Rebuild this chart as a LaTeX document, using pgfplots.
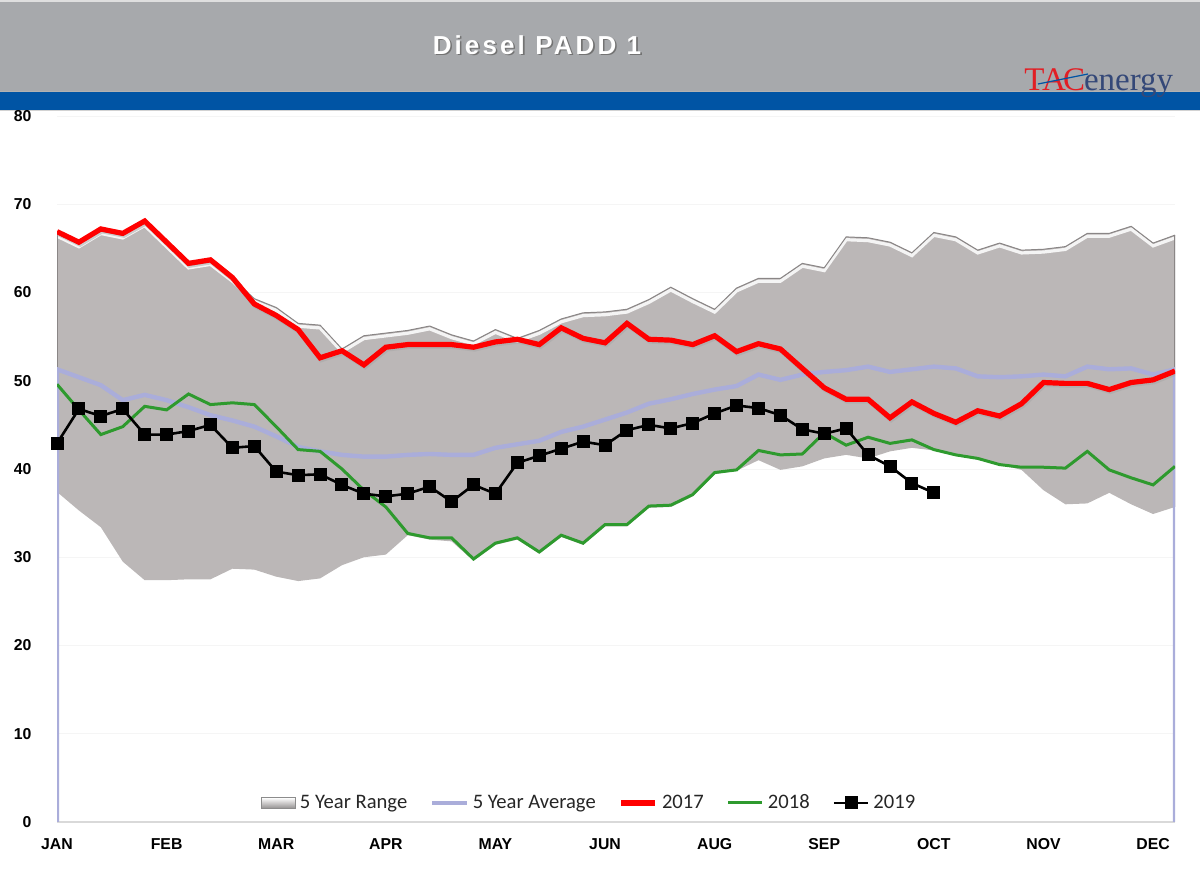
\documentclass[border=0pt]{standalone}
\usepackage{fontspec}
\setmainfont{Liberation Sans}
\newfontfamily\carlito{Carlito}
\newfontfamily\tserif{Liberation Serif}
\usepackage{pgfplots}
\pgfplotsset{compat=1.18}
\usepackage{pgfplotstable}
\usepgfplotslibrary{fillbetween}

\definecolor{hdrgray}{RGB}{167,169,172}
\definecolor{hdrblue}{RGB}{0,84,164}
\definecolor{rangegray}{RGB}{187,183,183}
\definecolor{rangeedge}{RGB}{138,134,134}
\definecolor{avgcol}{RGB}{170,173,218}
\definecolor{red17}{RGB}{255,0,0}
\definecolor{green18}{RGB}{46,154,46}
\definecolor{logored}{RGB}{226,30,36}
\definecolor{logoblue}{RGB}{52,72,120}

\pgfplotstableread{
w up lo
0 66.7 37.4
1 65.5 35.3
2 67.0 33.4
3 66.5 29.5
4 67.9 27.4
5 65.5 27.4
6 63.1 27.5
7 63.5 27.5
8 61.6 28.7
9 59.3 28.6
10 58.3 27.8
11 56.5 27.3
12 56.3 27.6
13 53.6 29.1
14 55.1 30.0
15 55.4 30.3
16 55.7 32.5
17 56.2 32.0
18 55.2 31.8
19 54.5 29.6
20 55.8 31.4
21 54.8 32.0
22 55.7 30.4
23 57.0 32.3
24 57.7 31.4
25 57.8 33.5
26 58.1 33.5
27 59.2 35.6
28 60.6 35.7
29 59.3 36.9
30 58.1 39.4
31 60.5 39.8
32 61.6 41.0
33 61.6 39.9
34 63.3 40.3
35 62.8 41.2
36 66.3 41.6
37 66.2 41.2
38 65.7 42.0
39 64.5 42.4
40 66.8 42.1
41 66.3 41.5
42 64.8 41.1
43 65.6 40.5
44 64.8 39.9
45 64.9 37.6
46 65.2 36.0
47 66.7 36.1
48 66.7 37.3
49 67.5 36.0
50 65.6 34.9
51 66.5 35.7
}\rangetab

\pgfplotstableread{
w v
0 0
0 51.3
1 50.4
2 49.5
3 47.8
4 48.4
5 47.8
6 47.0
7 46.1
8 45.5
9 44.8
10 43.7
11 42.5
12 42.0
13 41.6
14 41.4
15 41.4
16 41.6
17 41.7
18 41.6
19 41.6
20 42.4
21 42.8
22 43.2
23 44.2
24 44.8
25 45.6
26 46.4
27 47.4
28 47.9
29 48.5
30 49.0
31 49.4
32 50.7
33 50.1
34 50.7
35 51.0
36 51.2
37 51.6
38 51.0
39 51.3
40 51.6
41 51.4
42 50.5
43 50.4
44 50.5
45 50.7
46 50.5
47 51.6
48 51.3
49 51.4
50 50.7
51 51.3
51 0
}\avgtab

\pgfplotstableread{
w v
0 66.9
1 65.7
2 67.2
3 66.7
4 68.1
5 65.7
6 63.3
7 63.7
8 61.7
9 58.7
10 57.4
11 55.8
12 52.6
13 53.4
14 51.8
15 53.8
16 54.1
17 54.1
18 54.1
19 53.8
20 54.4
21 54.7
22 54.1
23 56.0
24 54.8
25 54.3
26 56.5
27 54.7
28 54.6
29 54.1
30 55.1
31 53.3
32 54.2
33 53.6
34 51.4
35 49.2
36 47.9
37 47.9
38 45.8
39 47.6
40 46.3
41 45.3
42 46.6
43 46.0
44 47.4
45 49.8
46 49.7
47 49.7
48 49.0
49 49.8
50 50.1
51 51.1
}\tabA

\pgfplotstableread{
w v
0 49.6
1 46.7
2 43.9
3 44.8
4 47.1
5 46.7
6 48.5
7 47.3
8 47.5
9 47.3
10 44.8
11 42.2
12 42.0
13 40.0
14 37.6
15 35.7
16 32.7
17 32.2
18 32.2
19 29.8
20 31.6
21 32.2
22 30.6
23 32.5
24 31.6
25 33.7
26 33.7
27 35.8
28 35.9
29 37.1
30 39.6
31 39.9
32 42.1
33 41.6
34 41.7
35 44.1
36 42.7
37 43.6
38 42.9
39 43.3
40 42.2
41 41.6
42 41.2
43 40.5
44 40.2
45 40.2
46 40.1
47 42.0
48 39.9
49 39.0
50 38.2
51 40.3
}\tabB

\pgfplotstableread{
w v
0 42.9
1 46.8
2 46.0
3 46.8
4 43.9
5 43.9
6 44.3
7 45.0
8 42.4
9 42.6
10 39.7
11 39.3
12 39.4
13 38.2
14 37.2
15 36.9
16 37.2
17 38.0
18 36.3
19 38.2
20 37.2
21 40.7
22 41.5
23 42.3
24 43.1
25 42.7
26 44.4
27 45.0
28 44.6
29 45.2
30 46.3
31 47.2
32 46.9
33 46.1
34 44.5
35 44.0
36 44.6
37 41.6
38 40.3
39 38.4
40 37.3
}\tabC

\begin{document}
\begin{tikzpicture}
% invisible frame fixing the picture size
\path (0,0) rectangle (600pt,436pt);
% header
\fill[hdrgray] (0,390pt) rectangle (600pt,436pt);
\fill[gray!25] (0,434.8pt) rectangle (600pt,436pt);
\fill[gray!60] (0,389.6pt) rectangle (600pt,390.6pt);
\fill[hdrblue] (0,381pt) rectangle (600pt,389.8pt);
\fill[gray!35] (0,380.4pt) rectangle (600pt,381pt);
\node[text=black!55, font=\bfseries\fontsize{13}{15}\selectfont\addfontfeature{LetterSpace=12}] at (269.3pt,412.7pt) {Diesel PADD 1};
\node[text=white, font=\bfseries\fontsize{13}{15}\selectfont\addfontfeature{LetterSpace=12}] at (268.5pt,413.5pt) {Diesel PADD 1};
% logo
\node[anchor=base west, inner sep=0pt, font=\tserif\fontsize{16.5}{16}\selectfont] at (512pt,390.8pt) {\textcolor{logored}{T\kern-1.2pt A\kern-1.5pt C}\kern-0.5pt\textcolor{logoblue}{energy}};
\draw[hdrblue, line width=0.6pt] (519pt,394pt) -- (544pt,399pt);

\begin{axis}[
  at={(28.5pt,25pt)}, anchor=south west,
  scale only axis, width=559pt, height=353pt,
  xmin=0, xmax=51, ymin=0, ymax=80,
  axis x line*=bottom, axis y line*=left,
  x axis line style={draw=black!15, line width=0.8pt},
  y axis line style={draw=none},
  major tick length=0pt,
  xtick={0,5,...,50},
  xticklabels={JAN,FEB,MAR,APR,MAY,JUN,AUG,SEP,OCT,NOV,DEC},
  ytick={0,10,...,80},
  ymajorgrids, grid style={black!4, line width=0.4pt},
  /pgf/number format/assume math mode=true,
  tick label style={font=\bfseries\fontsize{7.9}{9}\selectfont, text=black},
  xticklabel style={yshift=-4.6pt},
  yticklabel style={xshift=-9.2pt},
  legend style={at={(0.477,0.027)}, anchor=center, draw=none, fill=none,
    font=\carlito\fontsize{10.3}{12}\selectfont, text=black!85,
    legend columns=5, inner sep=0pt,
    /tikz/every even column/.append style={column sep=9.5pt}},
  legend cell align=left,
]
\addplot[draw=none, forget plot, name path=up] table[x=w,y=up] {\rangetab};
\addplot[draw=none, forget plot, name path=lo] table[x=w,y=lo] {\rangetab};
\addplot[fill=rangegray, draw=none,
  legend image code/.code={\shade[top color=white, bottom color=rangegray!80!black, draw=black!45, line width=0.3pt] (0pt,-2.6pt) rectangle (17pt,2.6pt);}]
  fill between[of=up and lo];
\addlegendentry{5 Year Range}
% bevel of the upper edge
\addplot[white, opacity=0.85, line width=1.6pt, yshift=-1.4pt, forget plot] table[x=w,y=up] {\rangetab};
\addplot[rangeedge, line width=0.5pt, forget plot] table[x=w,y=up] {\rangetab};
\addplot[rangeedge, line width=0.7pt, forget plot] coordinates {(0,37.4) (0,66.7)};
\addplot[rangeedge, line width=0.7pt, forget plot] coordinates {(51,35.7) (51,66.5)};
% 5 year average
\addplot[avgcol, line width=2.2pt] table[x=w,y=v] {\avgtab};
\addlegendentry{5 Year Average}
% 2017
\addplot[black!35, opacity=0.5, line width=2.6pt, xshift=0.6pt, yshift=-0.9pt, forget plot] table[x=w,y=v] {\tabA};
\addplot[red17, line width=2.6pt] table[x=w,y=v] {\tabA};
\addlegendentry{2017}
% 2018
\addplot[green18, line width=1.5pt] table[x=w,y=v] {\tabB};
\addlegendentry{2018}
% 2019
\addplot[black, line width=1.3pt, mark=square*, mark size=2.6pt, mark options={solid}] table[x=w,y=v] {\tabC};
\addlegendentry{2019}
\end{axis}
\end{tikzpicture}
\end{document}
